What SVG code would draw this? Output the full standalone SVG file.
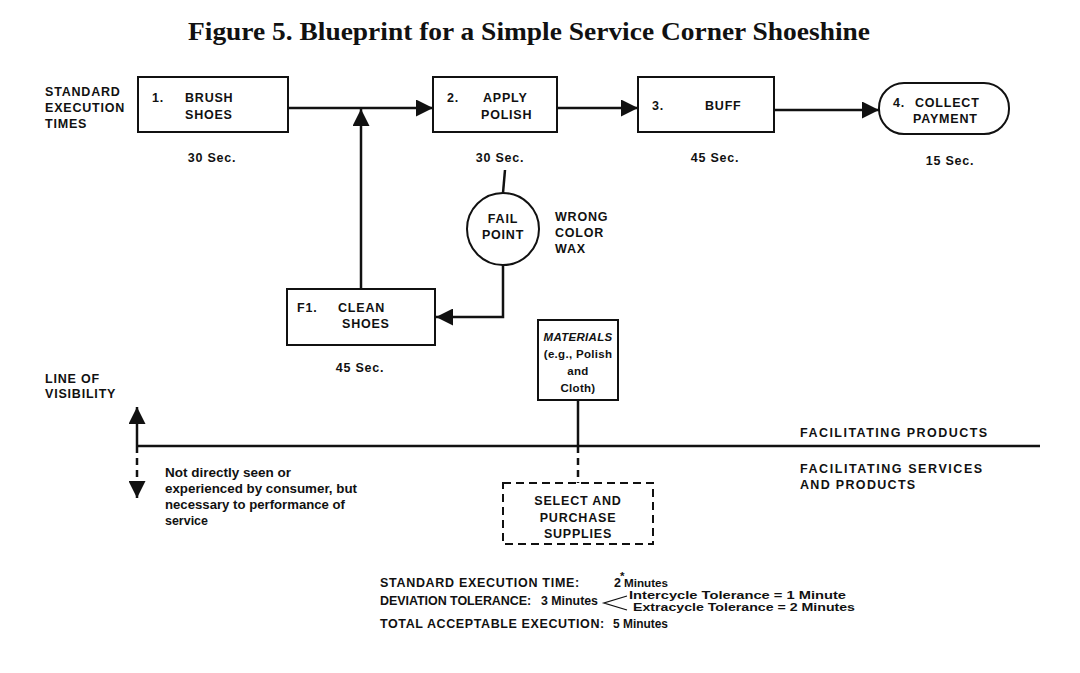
<svg xmlns="http://www.w3.org/2000/svg" width="1080" height="673" viewBox="0 0 1080 673">
<style>
.t{font-family:"Liberation Sans",Arial,sans-serif;font-weight:bold;font-size:12.5px;fill:#111;letter-spacing:0.8px}
.s{font-family:"Liberation Sans",Arial,sans-serif;font-weight:bold;font-size:11.5px;fill:#111;letter-spacing:0.3px}
.u{font-family:"Liberation Sans",Arial,sans-serif;font-weight:bold;font-size:12.5px;fill:#111}
.v{font-family:"Liberation Sans",Arial,sans-serif;font-weight:bold;font-size:10.5px;fill:#111}
.m{text-anchor:middle}
.title{font-family:"Liberation Serif","Times New Roman",serif;font-weight:bold;font-size:26px;fill:#111}
.box{fill:#fff;stroke:#111;stroke-width:2}
.dbox{fill:#fff;stroke:#111;stroke-width:2;stroke-dasharray:8,5}
.ln{stroke:#111;stroke-width:2.5;fill:none}
.dl{stroke:#111;stroke-width:2.5;fill:none;stroke-dasharray:7,5}
.thin{stroke:#111;stroke-width:1.3;fill:none}
</style>
<defs>
<marker id="ah" markerUnits="userSpaceOnUse" markerWidth="17" markerHeight="17" viewBox="0 0 17 17" refX="17" refY="8.5" orient="auto">
<path d="M0,0 L17,8.5 L0,17 z" fill="#111"/>
</marker>
</defs>
<rect width="1080" height="673" fill="#fff"/>
<text class="title" x="188" y="40" textLength="682" lengthAdjust="spacingAndGlyphs">Figure 5. Blueprint for a Simple Service Corner Shoeshine</text>

<g id="label-std">
<text class="t" x="45" y="96">STANDARD</text>
<text class="t" x="45" y="112">EXECUTION</text>
<text class="t" x="45" y="128">TIMES</text>
</g>

<g id="connectors">
<line class="ln" x1="288" y1="108" x2="433" y2="108" marker-end="url(#ah)"/>
<line class="ln" x1="361" y1="289" x2="361" y2="109" marker-end="url(#ah)"/>
<line class="ln" x1="557" y1="108" x2="638" y2="108" marker-end="url(#ah)"/>
<line class="ln" x1="774" y1="110" x2="879" y2="110" marker-end="url(#ah)"/>
<line class="ln" x1="505" y1="170" x2="503" y2="193"/>
<polyline class="ln" points="503,265 503,317 436,317" marker-end="url(#ah)"/>
<line class="ln" x1="578" y1="400" x2="578" y2="446"/>
<line class="dl" x1="578" y1="446" x2="578" y2="483"/>
</g>

<g id="visibility">
<line class="ln" x1="137" y1="446" x2="1040" y2="446"/>
<line class="ln" x1="137" y1="446" x2="137" y2="407" marker-end="url(#ah)"/>
<line class="dl" x1="137" y1="446" x2="137" y2="498" marker-end="url(#ah)"/>
<text class="t" x="45" y="383">LINE OF</text>
<text class="t" x="45" y="398">VISIBILITY</text>
<text class="u" x="165" y="477" textLength="126" lengthAdjust="spacingAndGlyphs">Not directly seen or</text>
<text class="u" x="165" y="493" textLength="192" lengthAdjust="spacingAndGlyphs">experienced by consumer, but</text>
<text class="u" x="165" y="509" textLength="180" lengthAdjust="spacingAndGlyphs">necessary to performance of</text>
<text class="u" x="165" y="525" textLength="43" lengthAdjust="spacingAndGlyphs">service</text>
<text class="t" x="800" y="437" textLength="188">FACILITATING PRODUCTS</text>
<text class="t" x="800" y="473" textLength="183">FACILITATING SERVICES</text>
<text class="t" x="800" y="489" textLength="116">AND PRODUCTS</text>
</g>

<g id="n1">
<rect class="box" x="138" y="77" width="150" height="55"/>
<text class="t" x="152" y="102">1.</text>
<text class="t" x="185" y="102">BRUSH</text>
<text class="t" x="185" y="119">SHOES</text>
<text class="t m" x="212" y="162">30 Sec.</text>
</g>

<g id="n2">
<rect class="box" x="433" y="77" width="124" height="55"/>
<text class="t" x="447" y="102">2.</text>
<text class="t" x="483" y="102">APPLY</text>
<text class="t" x="481" y="119">POLISH</text>
<text class="t m" x="500" y="162">30 Sec.</text>
</g>

<g id="n3">
<rect class="box" x="638" y="77" width="136" height="55"/>
<text class="t" x="652" y="110">3.</text>
<text class="t" x="705" y="110">BUFF</text>
<text class="t m" x="715" y="162">45 Sec.</text>
</g>

<g id="n4">
<rect class="box" x="879" y="83" width="130" height="51" rx="25" ry="25"/>
<text class="t" x="893" y="107">4.</text>
<text class="t" x="915" y="107">COLLECT</text>
<text class="t" x="913" y="123">PAYMENT</text>
<text class="t m" x="950" y="165">15 Sec.</text>
</g>

<g id="fail">
<circle class="box" cx="503" cy="229" r="36"/>
<text class="t m" x="503" y="223">FAIL</text>
<text class="t m" x="503" y="239">POINT</text>
<text class="t" x="555" y="221">WRONG</text>
<text class="t" x="555" y="237">COLOR</text>
<text class="t" x="555" y="253">WAX</text>
</g>

<g id="f1">
<rect class="box" x="287" y="289" width="148" height="56"/>
<text class="t" x="297" y="312">F1.</text>
<text class="t" x="338" y="312">CLEAN</text>
<text class="t" x="342" y="328">SHOES</text>
<text class="t m" x="360" y="372">45 Sec.</text>
</g>

<g id="materials">
<rect class="box" x="538" y="320" width="80" height="80"/>
<text class="s m" x="578" y="341" font-style="italic" font-size="12px" letter-spacing="0">MATERIALS</text>
<text class="s m" x="578" y="358" font-size="12px" letter-spacing="0">(e.g., Polish</text>
<text class="s m" x="578" y="375" font-size="12px">and</text>
<text class="s m" x="578" y="392" font-size="12px">Cloth)</text>
</g>

<g id="select">
<rect class="dbox" x="503" y="483" width="150" height="61"/>
<text class="t m" x="578" y="505">SELECT AND</text>
<text class="t m" x="578" y="522">PURCHASE</text>
<text class="t m" x="578" y="538">SUPPLIES</text>
</g>

<g id="summary">
<text class="t" x="380" y="587" textLength="200">STANDARD EXECUTION TIME:</text>
<text class="t" x="614" y="587">2</text>
<text class="s" x="620" y="580" font-size="7px">*</text>
<text class="v" x="624" y="587" textLength="44" lengthAdjust="spacingAndGlyphs">Minutes</text>
<text class="t" x="380" y="605" textLength="152">DEVIATION TOLERANCE:</text>
<text class="u" x="541" y="605" textLength="57" lengthAdjust="spacingAndGlyphs">3 Minutes</text>
<polyline class="thin" points="627,596 604,603 627,610"/>
<text class="v" x="629" y="599" textLength="217" lengthAdjust="spacingAndGlyphs">Intercycle Tolerance = 1 Minute</text>
<text class="v" x="633" y="611" textLength="222" lengthAdjust="spacingAndGlyphs">Extracycle Tolerance = 2 Minutes</text>
<text class="t" x="380" y="628" textLength="225">TOTAL ACCEPTABLE EXECUTION:</text>
<text class="u" x="613" y="628" textLength="55" lengthAdjust="spacingAndGlyphs">5 Minutes</text>
</g>
</svg>
